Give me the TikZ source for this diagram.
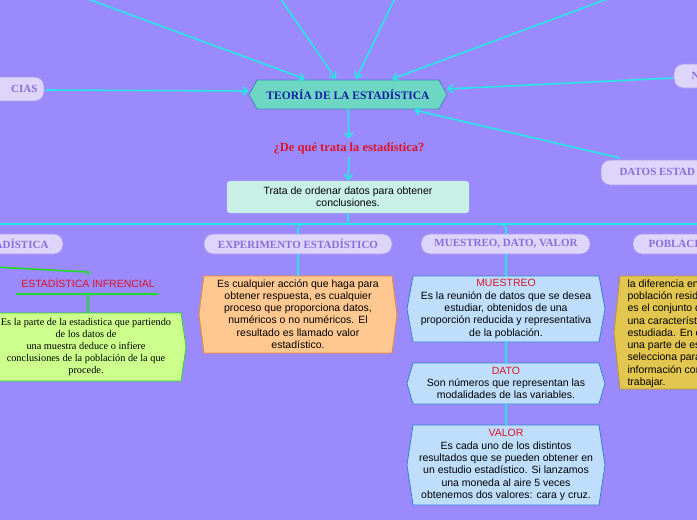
\documentclass[tikz,border=0pt]{standalone}
\usepackage{fontspec}
\setmainfont{Liberation Serif}
\setsansfont{Liberation Sans}
\usetikzlibrary{arrows.meta}
\definecolor{bg}{RGB}{155,138,251}
\definecolor{cyanl}{RGB}{40,230,230}
\definecolor{pillf}{RGB}{222,214,250}
\definecolor{pilld}{RGB}{170,150,240}
\definecolor{pillt}{RGB}{135,110,220}
\definecolor{tealf}{RGB}{110,215,195}
\definecolor{teald}{RGB}{70,130,200}
\definecolor{boxf}{RGB}{200,240,230}
\definecolor{grf}{RGB}{205,255,140}
\definecolor{grl}{RGB}{30,220,40}
\definecolor{orf}{RGB}{255,200,145}
\definecolor{ord}{RGB}{240,140,40}
\definecolor{blf}{RGB}{190,222,252}
\definecolor{bld}{RGB}{50,130,210}
\definecolor{yef}{RGB}{226,198,80}
\definecolor{yed}{RGB}{180,150,50}
\definecolor{redt}{RGB}{220,20,40}
\definecolor{navy}{RGB}{20,30,160}
\tikzset{
  conn/.style={draw=cyanl,line width=1.6pt},
  arr/.style={conn,-{Straight Barb[length=5pt,width=8pt]}},
  pill/.style={draw=pilld,fill=pillf,rounded corners=9pt,line width=0.8pt},
  pilltext/.style={font=\rmfamily\scshape\bfseries\fontsize{11}{12}\selectfont,text=pillt},
  body/.style={font=\sffamily\fontsize{10.5}{12.3}\selectfont,align=center,text=black},
  anchorbox/.style={inner sep=0pt,draw=none}
}
\newcommand\hexa[8]{% name x1 y1 x2 y2 fill draw depth
  \filldraw[fill=#6,draw=#7,line width=0.8pt] ({#2+#8},#3)--({#4-#8},#3)--(#4,{(#3+#5)/2})--({#4-#8},#5)--({#2+#8},#5)--(#2,{(#3+#5)/2})--cycle;
  \node[anchorbox,minimum width={(#4-#2)*1pt},minimum height={(#5-#3)*1pt}] (#1) at ({(#2+#4)/2},{(#3+#5)/2}) {};}
\begin{document}
\begin{tikzpicture}[x=1pt,y=-1pt]
\fill[bg] (0,0) rectangle (697,520);
\useasboundingbox (0,0) rectangle (697,520);
\begin{scope}
\clip (0,0) rectangle (697,520);
% central
\hexa{central}{249}{80}{447}{109}{tealf}{teald}{8}
\node[font=\rmfamily\bfseries\fontsize{11.5}{12}\selectfont,text=navy] at (central) {TEORÍA DE LA ESTADÍSTICA};
% outer pills
\draw[pill] (-20,77) rectangle (44,101); \node[pilltext,anchor=east] (pcias) at (41,89) {CIAS};
\draw[pill] (674,64) rectangle (720,88); \node[pilltext,anchor=west] (pn) at (688,76) {N};
\draw[pill] (601,160) rectangle (720,185); \node[pilltext,anchor=west] (pdatos) at (616,172) {DATOS ESTAD};
\coordinate (t1) at (85,-2); \coordinate (t2) at (280,-2); \coordinate (t3) at (395,-2); \coordinate (t4) at (610,-2);
\coordinate (c1) at (305,79); \coordinate (c2) at (336,79); \coordinate (c3) at (356,79); \coordinate (c4) at (392,79);
\draw[arr] (t1)--(c1); \draw[arr] (t2)--(c2); \draw[arr] (t3)--(c3); \draw[arr] (t4)--(c4);
\coordinate (ciasE) at (46,90); \coordinate (centW) at (249,91);
\draw[arr] (ciasE)--(centW);
\coordinate (nW) at (673,78); \coordinate (centE) at (447,89);
\draw[arr] (nW)--(centE);
\coordinate (datW) at (620,158); \coordinate (centSE) at (414,110);
\draw[arr] (datW)--(centSE);
% question
\node[font=\rmfamily\bfseries\fontsize{12.5}{13}\selectfont,text=redt] (q) at (349,148) {¿De qué trata la estadística?};
\draw[arr] (central.south)--(q.north);
\node[body,draw=teald!40,fill=boxf,rounded corners=3pt,minimum width=242pt,minimum height=32pt,inner sep=2pt] (trata) at (348,197) {Trata de ordenar datos para obtener\\conclusiones.};
\draw[arr] (q.south)--(trata.north);
% branches
\coordinate (bus) at (348,224);
\draw[conn] (trata.south)--(bus);
\draw[conn] (-5,224)--(702,224);
\draw[pill] (-20,234) rectangle (63,254); \node[pilltext,anchor=east] (pest) at (52,244) {ADÍSTICA};
\draw[pill] (204,234) rectangle (392,254); \node[pilltext] (pexp) at (298,244) {EXPERIMENTO ESTADÍSTICO};
\draw[pill] (421,234) rectangle (590,254); \node[pilltext] (pmue) at (506,244) {MUESTREO, DATO, VALOR};
\draw[pill] (633,234) rectangle (720,254); \node[pilltext,anchor=west] (ppob) at (645,244) {POBLACI};
\draw[conn,rounded corners=5pt] (298,234)--(298,224)--(310,224);
\draw[conn,rounded corners=5pt] (506,234)--(506,224)--(494,224);
% left green
\draw[grl,line width=1.6pt] (-5,267)--(88,272)--(88,275);
\node[font=\sffamily\fontsize{10.5}{11}\selectfont,text=redt] (inf) at (88,283) {ESTADÍSTICA INFRENCIAL};
\draw[grl,line width=1.6pt] (16,294)--(158,294);
\draw[grl,line width=1.6pt] (88,294)--(88,313);
\hexa{gbox}{-10}{313}{186}{381}{grf}{grl}{5}
\node[font=\rmfamily\fontsize{10.3}{12.2}\selectfont,align=center] at (86,347) {Es la parte de la estadistica que partiendo\\de los datos de\\una muestra deduce o infiere\\conclusiones de la población de la que\\procede.};
% orange
\hexa{obox}{199}{276}{397}{353}{orf}{ord}{5}
\node[body] at (298,314) {Es cualquier acción que haga para\\obtener respuesta, es cualquier\\proceso que proporciona datos,\\numéricos o no numéricos. El\\resultado es llamado valor\\estadístico.};
\draw[conn] (pexp.south|-0,254)--(obox.north);
% blue
\hexa{mbox}{407}{276}{605}{342}{blf}{bld}{6}
\node[body] at (506,309) {\textcolor{redt}{MUESTREO}\\Es la reunión de datos que se desea\\estudiar, obtenidos de una\\proporción reducida y representativa\\de la población.};
\hexa{dbox}{407}{363}{605}{404}{blf}{bld}{6}
\node[body] at (506,383) {\textcolor{redt}{DATO}\\Son números que representan las\\modalidades de las variables.};
\hexa{vbox}{407}{425}{605}{505}{blf}{bld}{6}
\node[body] at (506,465) {\textcolor{redt}{VALOR}\\Es cada uno de los distintos\\resultados que se pueden obtener en\\un estudio estadístico. Si lanzamos\\una moneda al aire 5 veces\\obtenemos dos valores: cara y cruz.};
\coordinate (pmueS) at (506,254);
\draw[conn] (pmueS)--(mbox.north);
\draw[conn] (mbox.south)--(dbox.north);
\draw[conn] (dbox.south)--(vbox.north);
% yellow
\hexa{ybox}{614}{276}{760}{389}{yef}{yed}{6}
\node[body,align=left,anchor=north west] at (624,276) {la diferencia en\\población resid\\es el conjunto d\\una característi\\estudiada. En c\\una parte de es\\selecciona para\\información con\\trabajar.};
\end{scope}
\end{tikzpicture}
\end{document}
